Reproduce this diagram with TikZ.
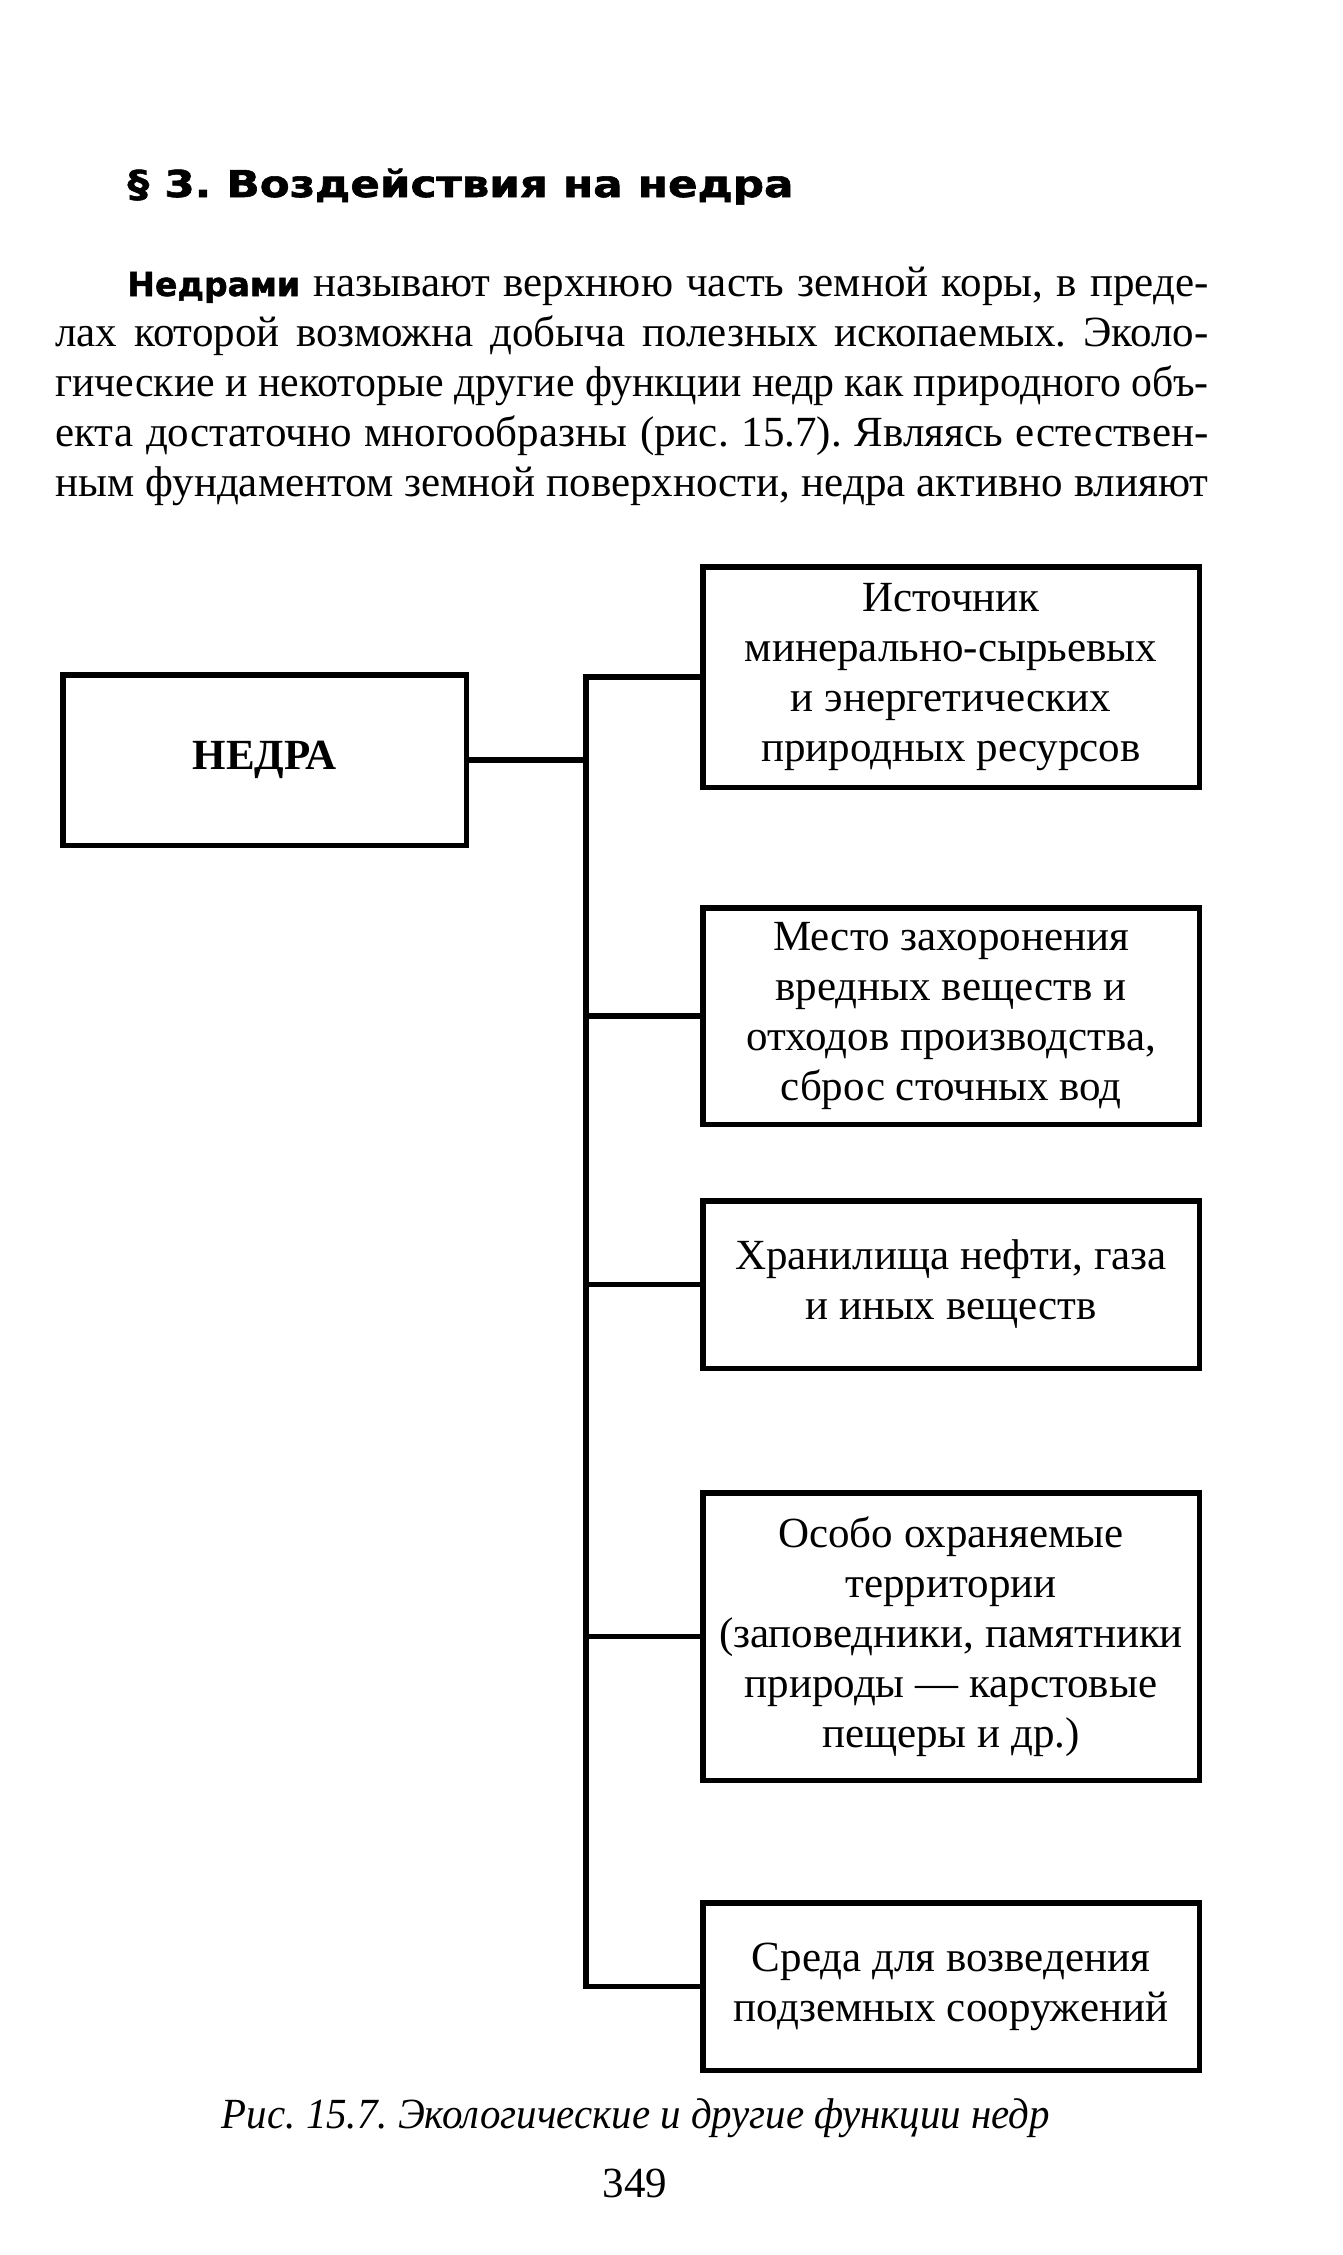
\documentclass[tikz,border=0pt]{standalone}
\usepackage{fontspec}
\usepackage{graphicx}
\setmainfont{Liberation Serif}
\newfontfamily\hdfont{DejaVu Sans}[BoldFeatures={FakeBold=1.5}]
\newlength\jlw
\newcommand\jline[2]{\settowidth\jlw{#2}\ifdim\jlw>#1\relax\resizebox{#1}{\height}{#2}\else\makebox[#1][s]{#2}\fi}
\newcommand\bodyfont{\fontsize{21.5}{25}\selectfont}
\frenchspacing
\begin{document}
\begin{tikzpicture}[x=0.5pt,y=-0.5pt,
  textline/.style={anchor=base west,inner sep=0pt,font=\bodyfont},
  fbox/.style={draw,line width=2.75pt,inner sep=0pt,align=center,font=\bodyfont,minimum width=248.25pt},
  link/.style={line width=2.75pt,line join=miter}]
\useasboundingbox (0,0) rectangle (1343,2255);
% title
\node[anchor=base west,inner sep=0pt] (title) at (127,197)
  {\resizebox{333pt}{\height}{\hdfont\bfseries\fontsize{18.5}{22}\selectfont § 3. Воздействия на недра}};
% paragraph
\node[textline] (p1) at (127,296) {\jline{540.5pt}{{\hdfont\bfseries\fontsize{16.5}{20}\selectfont Недрами} называют верхнюю часть земной коры, в преде-}};
\node[textline] (p2) at (55,346) {\jline{576.5pt}{лах которой возможна добыча полезных ископаемых. Эколо-}};
\node[textline] (p3) at (55,396) {\jline{576.5pt}{гические и некоторые другие функции недр как природного объ-}};
\node[textline] (p4) at (55,446) {\jline{576.5pt}{екта достаточно многообразны (рис. 15.7). Являясь естествен-}};
\node[textline] (p5) at (55,496) {\jline{576.5pt}{ным фундаментом земной поверхности, недра активно влияют}};
% boxes
\node[fbox,minimum width=201.75pt,minimum height=85.25pt,font=\bodyfont\bfseries] (nedra) at (264.5,760) {НЕДРА};
\node[fbox,minimum height=110.25pt] (b1) at (951,677) {Источник\\минерально-сырьевых\\и энергетических\\природных ресурсов};
\node[fbox,minimum height=108.25pt] (b2) at (951,1016) {Место захоронения\\вредных веществ и\\отходов производства,\\сброс сточных вод};
\node[fbox,minimum height=83.75pt] (b3) at (951,1284.5) {Хранилища нефти, газа\\и иных веществ};
\node[fbox,minimum height=143.75pt] (b4) at (951,1636.5) {Особо охраняемые\\территории\\(заповедники, памятники\\природы — карстовые\\пещеры и др.)};
\node[fbox,minimum height=83.75pt] (b5) at (951,1986.5) {Среда для возведения\\подземных сооружений};
% connectors
\coordinate (bus) at (586,0);
\draw[link] (b1.west) -- (b1.west -| bus) -- (b5.west -| bus) -- (b5.west);
\draw[link] (nedra.east) -- (nedra.east -| bus);
\foreach \b in {b2,b3,b4} \draw[link] (\b.west) -- (\b.west -| bus);
% caption and page number
\node[anchor=base,inner sep=0pt] (caption) at (636,2128)
  {\resizebox{414pt}{\height}{\bodyfont\itshape Рис. 15.7. Экологические и другие функции недр}};
\node[anchor=base,inner sep=0pt,font=\bodyfont] (page) at (635,2197) {349};
\end{tikzpicture}
\end{document}
